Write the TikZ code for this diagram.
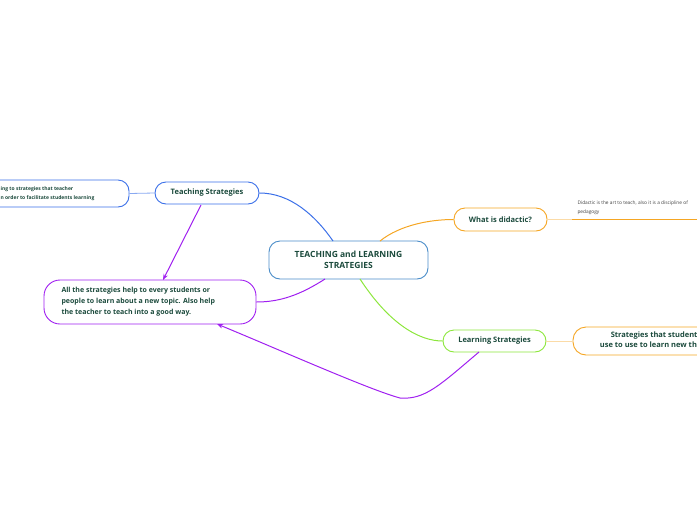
\documentclass[tikz,border=0pt]{standalone}
\usepackage{fontspec}
\setmainfont{Open Sans}
\usetikzlibrary{arrows.meta}
\definecolor{txt}{HTML}{1B4A3C}
\definecolor{cblue}{HTML}{3A6FE8}
\definecolor{cpurp}{HTML}{A020F0}
\definecolor{corng}{HTML}{F5A623}
\definecolor{cgreen}{HTML}{8CE63C}
\definecolor{cmain}{HTML}{4A8CC8}
\tikzset{
 box/.style={draw,rounded corners=11pt,line width=0.9pt,text=txt,font=\bfseries\fontsize{7.5}{10}\selectfont,inner sep=0pt},
 conn/.style={line width=1pt},
}
\begin{document}
\begin{tikzpicture}[x=1pt,y=-1pt]
\useasboundingbox (0,0) rectangle (697,520);
\clip (0,0) rectangle (697,520);
\node[box,draw=cmain,minimum width=159,minimum height=38,align=center,font=\bfseries\fontsize{8.5}{11}\selectfont] (c) at (348.5,260) {TEACHING and LEARNING\\STRATEGIES};
\node[box,draw=cblue,minimum width=104,minimum height=22] (t) at (207,193) {Teaching Strategies};
\node[box,draw=cblue,minimum width=190,minimum height=27] (l) at (34,193.5) {};
\node[text=txt,font=\bfseries\fontsize{5}{9}\selectfont,anchor=west,align=left] (lt) at (-3,193.5) {ing to strategies that teacher\\n order to facilitate students learning};
\node[box,draw=cpurp,minimum width=212,minimum height=44,rounded corners=16pt] (p) at (150,302) {};
\node[text=txt,font=\bfseries\fontsize{7}{11}\selectfont,anchor=west,align=left] (pt) at (58,302) {All the strategies help to every students or\\people to learn about a new topic. Also help\\the teacher to teach into a good way.};
\node[box,draw=corng,minimum width=93,minimum height=23] (d) at (500.5,219.5) {What is didactic?};
\node[text=black!75,font=\fontsize{4.8}{9}\selectfont,anchor=west,align=left] (dt) at (574,208) {Didactic is the art to teach, also it is a discipline of\\pedagogy};
\coordinate (du1) at (572,219.5);
\coordinate (du2) at (700,219.5);
\node[box,draw=cgreen,minimum width=103,minimum height=22] (g) at (494.5,341) {Learning Strategies};
\node[box,draw=corng,minimum width=166,minimum height=28,align=center,font=\bfseries\fontsize{7.5}{10}\selectfont,rounded corners=13pt] (s) at (656,341) {Strategies that students\\use to use to learn new things};
% connectors
\draw[conn,cblue] (333,241) .. controls (315,215) and (290,193) .. (t.east);
\draw[conn,cpurp] (325,279) .. controls (300,295) and (280,302) .. (p.east);
\draw[conn,corng] (380,241) .. controls (400,225) and (430,219.5) .. (d.west);
\draw[conn,cgreen] (360,279) .. controls (390,325) and (420,341) .. (g.west);
\draw[line width=0.8pt,cblue!60] (l.east) -- (t.west);
\draw[line width=0.8pt,corng!40] (d.east) -- (du1);
\draw[line width=1.5pt,corng] (du1) -- (du2);
\draw[line width=0.8pt,corng!40] (g.east) -- (s.west);
\draw[conn,cpurp,-{Stealth[length=6pt]}] (201,205) -- (163,280);
\coordinate (b) at (400,398);
\draw[conn,cpurp,-{Stealth[length=6pt]}] (479,352) .. controls (440,385) and (425,400) .. (b) .. controls (370,390) and (280,350) .. (217,324);
\end{tikzpicture}
\end{document}
